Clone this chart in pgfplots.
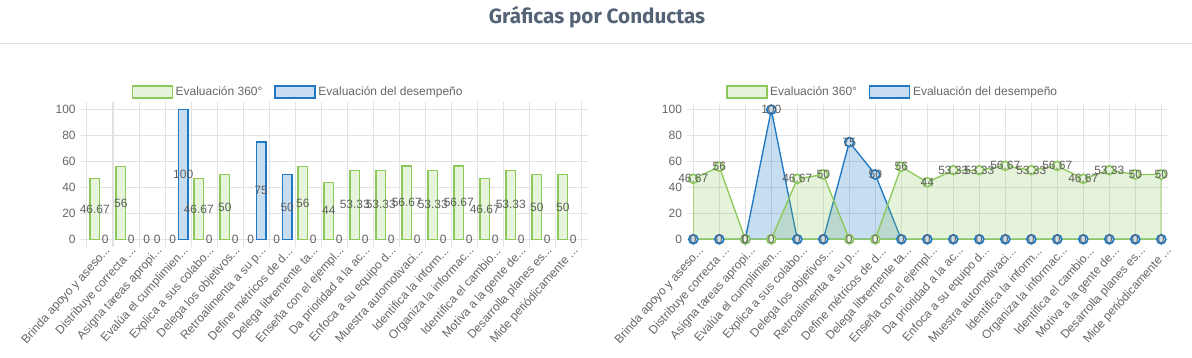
\documentclass[border=0pt]{standalone}
\usepackage{pgfplots}
\pgfplotsset{compat=1.18}
\usepackage{pgfplotstable}
\usepackage{fontspec}
\setmainfont{Liberation Sans}
\newfontfamily\titlefont{Fira Sans}
\newcommand\dd{...}
\definecolor{gridc}{RGB}{226,226,226}
\definecolor{txt}{RGB}{102,102,102}
\definecolor{lbl}{RGB}{95,95,95}
\definecolor{gline}{RGB}{140,200,90}
\definecolor{gfill}{RGB}{230,244,220}
\definecolor{bline}{RGB}{30,120,195}
\definecolor{bfill}{RGB}{200,222,240}
\definecolor{titlec}{RGB}{84,99,118}

\pgfplotstableread{
x v
0 46.67
1 56
2 0
3 0
4 46.67
5 50
6 0
7 0
8 56
9 44
10 53.33
11 53.33
12 56.67
13 53.33
14 56.67
15 46.67
16 53.33
17 50
18 50
}\tresixty
\pgfplotstableread{
x v
0 0
1 0
2 0
3 100
4 0
5 0
6 75
7 50
8 0
9 0
10 0
11 0
12 0
13 0
14 0
15 0
16 0
17 0
18 0
}\desemp

\pgfplotsset{
  base/.style={
    scale only axis,
    height=97.2pt,
    ymin=0, ymax=100, ytick={0,20,...,100},
    ymajorgrids,
    grid style={draw=gridc, line width=0.75pt},
    minor grid style={draw=gridc, line width=0.75pt},
    axis line style={draw=gridc, line width=0.75pt},
    tick style={draw=gridc, line width=0.75pt},
    tick align=outside,
    major tick length=5pt, minor tick length=6pt,
    /pgf/number format/assume math mode=true,
    ticklabel style={font=\fontsize{9}{10}\selectfont, text=txt},
    xtick={0,...,18},
    xticklabels={Brinda apoyo y aseso\dd,Distribuye correcta \dd,Asigna tareas apropi\dd,Evalúa el cumplimien\dd,Explica a sus colabo\dd,Delega los objetivos\dd,Retroalimenta a su p\dd,Define métricos de d\dd,Delega libremente ta\dd,Enseña con el ejempl\dd,Da prioridad a la ac\dd,Enfoca a su equipo d\dd,Muestra automotivaci\dd,Identifica la inform\dd,Organiza la informac\dd,Identifica el cambio\dd,Motiva a la gente de\dd,Desarrolla planes es\dd,Mide periódicamente \dd},
    xticklabel style={rotate=48, anchor=east, xshift=6pt, yshift=-6pt},
    legend columns=2,
    legend style={draw=none, fill=none, font=\fontsize{9}{10}\selectfont, text=txt,
      anchor=center, /tikz/every even column/.append style={column sep=7pt},
      inner sep=0pt},
    legend cell align=left,
  },
  lab/.style={forget plot, draw=none, mark=none, nodes near coords,
    point meta=explicit symbolic,
    nodes near coords align=center,
    every node near coord/.append style={font=\fontsize{9}{10}\selectfont, text=lbl, anchor=center, inner sep=0pt}},
}

\begin{document}
\begin{tikzpicture}
\useasboundingbox (0pt,0pt) rectangle (894pt,267.75pt);
\node[font=\titlefont\bfseries\fontsize{15.5}{18}\selectfont, text=titlec] at (447.75pt,255pt) {Gráficas por Conductas};
\draw[draw=gridc, line width=0.75pt] (0pt,234.75pt) -- (894pt,234.75pt);

% Left: bar chart
\begin{axis}[base,
  at={(65.25pt,88.275pt)}, anchor=south west,
  width=370.5pt,
  xmin=-0.5, xmax=18.5,
  minor xtick={-0.5,0.5,...,18.5},
  xminorgrids,
  major x tick style={draw=none},
  legend style={at={(0.428,1.137)}},
]
\addplot[ybar, bar width=7pt, bar shift=-3.9pt, draw=gline, fill=gfill, line width=1pt,
  restrict y to domain=0.001:1000,
  legend image code/.code={\draw[draw=gline, fill=gfill, fill opacity=1, line width=1pt] (0pt,-4.5pt) rectangle (30pt,4.5pt);}]
  table[x=x, y=v]{\tresixty};
\addlegendentry{Evaluación 360°}
\addplot[ybar, bar width=7pt, bar shift=3.9pt, draw=bline, fill=bfill, line width=1pt,
  restrict y to domain=0.001:1000,
  legend image code/.code={\draw[draw=bline, fill=bfill, fill opacity=1, line width=1pt] (0pt,-4.5pt) rectangle (30pt,4.5pt);}]
  table[x=x, y=v]{\desemp};
\addlegendentry{Evaluación del desempeño}
\addplot[lab] table[x expr=\thisrow{x}-0.2, y expr=\thisrow{v}/2, meta=v]{\tresixty};
\addplot[lab] table[x expr=\thisrow{x}+0.2, y expr=\thisrow{v}/2, meta=v]{\desemp};
\end{axis}

% Right: area/line chart
\begin{axis}[base,
  at={(519.975pt,88.275pt)}, anchor=south west,
  width=351pt,
  xmin=0, xmax=18,
  xmajorgrids,
  reverse legend,
  legend style={at={(0.4267,1.137)}},
]
\addplot[draw=bline, line width=1pt, fill=bline, fill opacity=0.25,
  mark=*, mark size=3.4pt, mark options={fill=bfill, draw=bline, line width=1.2pt, fill opacity=1},
  legend image code/.code={\draw[draw=bline, fill=bfill, fill opacity=1, line width=1pt] (0pt,-4.5pt) rectangle (30pt,4.5pt);}]
  table[x=x, y=v]{\desemp} \closedcycle;
\addlegendentry{Evaluación del desempeño}
\addplot[draw=gline, line width=1pt, fill=gline, fill opacity=0.22,
  mark=*, mark size=3.4pt, mark options={fill=gfill, draw=gline, line width=1.2pt, fill opacity=1},
  legend image code/.code={\draw[draw=gline, fill=gfill, fill opacity=1, line width=1pt] (0pt,-4.5pt) rectangle (30pt,4.5pt);}]
  table[x=x, y=v]{\tresixty} \closedcycle;
\addlegendentry{Evaluación 360°}
\addplot[lab] table[x=x, y=v, meta=v]{\desemp};
\addplot[lab] table[x=x, y=v, meta=v]{\tresixty};
\end{axis}
\end{tikzpicture}
\end{document}
